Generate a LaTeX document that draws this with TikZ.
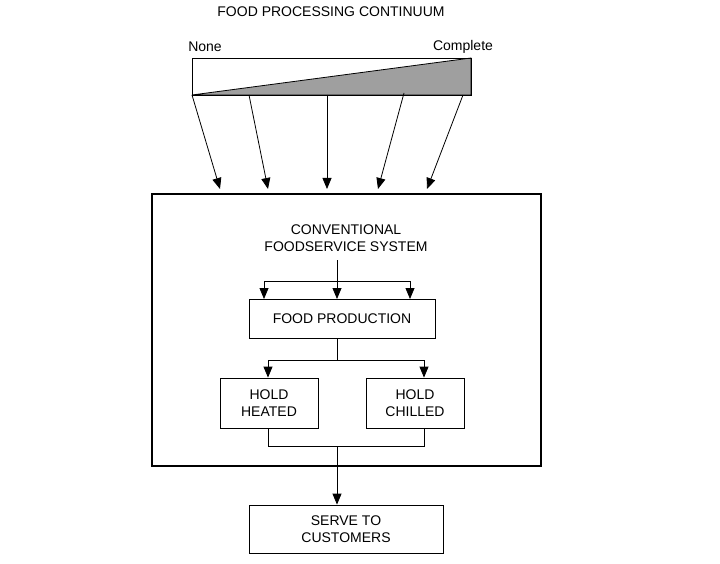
\documentclass[tikz,border=0pt]{standalone}
\usepackage{fontspec}
\setmainfont{Liberation Sans}
\usetikzlibrary{arrows.meta}
\begin{document}
\begin{tikzpicture}[x=1pt,y=-1pt,
  lbl/.style={font=\fontsize{14}{16.5}\selectfont,align=center},
  box/.style={draw,line width=0.8pt},
  arr/.style={-{Triangle[width=9pt,length=11pt]},line width=0.8pt},
  ln/.style={line width=0.8pt}]
\useasboundingbox (0,0) rectangle (720,564);
\node[lbl] (title) at (331,12) {FOOD PROCESSING CONTINUUM};
\node[lbl] (none) at (205,47) {None};
\node[lbl] (comp) at (463,47) {Complete};
\draw[box] (192,58) rectangle (471,95);
\fill[gray!75] (192,95) -- (471,58) -- (471,95) -- cycle;
\draw[ln] (192,95) -- (471,58) -- (471,95) -- cycle;
\draw[box] (192,58) rectangle (471,95);
\coordinate (s1) at (192,95); \coordinate (e1) at (220,189);
\coordinate (s2) at (249,95); \coordinate (e2) at (268,189);
\coordinate (s3) at (327,95); \coordinate (e3) at (327,189);
\coordinate (s4) at (404,93); \coordinate (e4) at (378,189);
\coordinate (s5) at (463,95); \coordinate (e5) at (427,189);
\foreach \i in {1,...,5} \draw[arr] (s\i) -- (e\i);
\draw[line width=2.6pt] (152,194) rectangle (541,466);
\node[lbl] (sys) at (346,238) {CONVENTIONAL\\FOODSERVICE SYSTEM};
\node[box,lbl,minimum width=186pt,minimum height=39pt] (prod) at (342,318.5) {FOOD PRODUCTION};
\node[box,lbl,minimum width=98pt,minimum height=50pt] (heat) at (269,403) {HOLD\\HEATED};
\node[box,lbl,minimum width=98pt,minimum height=50pt] (chill) at (415,403) {HOLD\\CHILLED};
\node[box,lbl,minimum width=194pt,minimum height=48pt] (serve) at (346,529) {SERVE TO\\CUSTOMERS};
\draw[ln] (337,260) -- (337,281);
\draw[ln] (264,281) -- (410,281);
\draw[arr] (264,281) -- (264,299);
\draw[arr] (337,281) -- (337,299);
\draw[arr] (410,281) -- (410,299);
\draw[ln] (prod.south -| 337,0) -- (337,360);
\draw[ln] (268,360) -- (424,360);
\draw[arr] (268,360) -- (heat.north -| 268,0);
\draw[arr] (424,360) -- (chill.north -| 424,0);
\draw[ln] (heat.south -| 268,0) -- (268,446) -- (424,446) -- (chill.south -| 424,0);
\draw[arr] (337,446) -- (serve.north -| 337,0);
\end{tikzpicture}
\end{document}
